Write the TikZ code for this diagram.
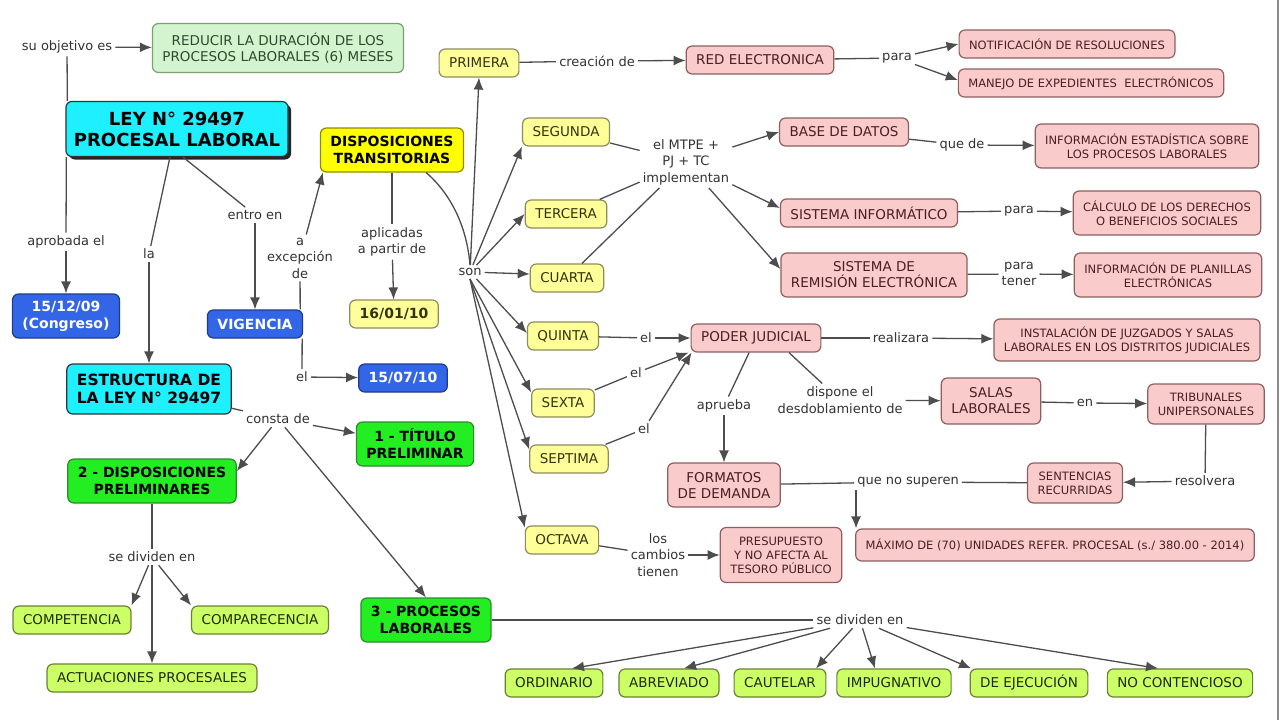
\documentclass[tikz,border=0pt]{standalone}
\usepackage{fontspec}
\setmainfont{DejaVu Sans}
\usetikzlibrary{arrows.meta,shadows}

\definecolor{mintfill}{HTML}{D2F5CF}
\definecolor{mintdraw}{HTML}{7F9F70}
\definecolor{minttext}{HTML}{2E4A2E}
\definecolor{cyanfill}{HTML}{1EF0FF}
\definecolor{bluefill}{HTML}{3366E6}
\definecolor{bluedraw}{HTML}{1F3A8F}
\definecolor{ylwfill}{HTML}{FFFF00}
\definecolor{ylwdraw}{HTML}{8C8C00}
\definecolor{paleyfill}{HTML}{FFFF99}
\definecolor{paleydraw}{HTML}{8C8C5C}
\definecolor{paleytext}{HTML}{33330A}
\definecolor{greenfill}{HTML}{22EE22}
\definecolor{greendraw}{HTML}{2E8B2E}
\definecolor{limefill}{HTML}{CCFF66}
\definecolor{limedraw}{HTML}{6B8033}
\definecolor{limetext}{HTML}{1F2A05}
\definecolor{pinkfill}{HTML}{F9CBCB}
\definecolor{pinkdraw}{HTML}{8F5F5F}
\definecolor{pinktext}{HTML}{4A1F1F}
\definecolor{linkgray}{HTML}{4D4D4D}

\tikzset{
    concept/.style={draw, rounded corners=6pt, line width=1.2pt, align=center,
        inner xsep=10pt, inner ysep=4pt, minimum height=28pt},
    two/.style={minimum height=44pt},
    txtbig/.style={font=\fontsize{13.5}{16}\selectfont},
    txtsmall/.style={font=\fontsize{11.5}{14}\selectfont},
    txtbold/.style={font=\fontsize{14}{17}\selectfont\bfseries},
    mintbox/.style={concept, txtbig, fill=mintfill, draw=mintdraw, text=minttext},
    cyanbox/.style={concept, fill=cyanfill, draw=black!80, text=black},
    bluebox/.style={concept, txtbold, fill=bluefill, draw=bluedraw, text=white},
    ylwbox/.style={concept, txtbold, fill=ylwfill, draw=ylwdraw, text=black},
    paleybox/.style={concept, txtbig, fill=paleyfill, draw=paleydraw, text=paleytext},
    greenbox/.style={concept, txtbold, fill=greenfill, draw=greendraw, text=black},
    limebox/.style={concept, txtbig, fill=limefill, draw=limedraw, text=limetext},
    pinkbox/.style={concept, txtbig, fill=pinkfill, draw=pinkdraw, text=pinktext},
    pinksmall/.style={concept, txtsmall, fill=pinkfill, draw=pinkdraw, text=pinktext},
    lbl/.style={align=center, inner sep=3pt, text=black!80,
        font=\fontsize{13}{16.5}\selectfont},
    lnk/.style={draw=linkgray, line width=1.3pt},
    arr/.style={lnk, -{Latex[length=12pt,width=10pt]}},
}

\begin{document}
\begin{tikzpicture}[x=1pt,y=-1pt]
\useasboundingbox[fill=white] (0,0) rectangle (1280,720);

% ley y objetivo
\node[cyanbox, font=\fontsize{18}{21}\selectfont\bfseries, inner xsep=8pt, minimum height=55pt,
    drop shadow={shadow xshift=3pt, shadow yshift=-3pt, fill=black!85, opacity=1}]
    (ley) at (177,129) {LEY N° 29497\\PROCESAL LABORAL};
\node[mintbox, minimum height=49pt] (objetivo) at (278,48) {REDUCIR LA DURACIÓN DE LOS\\PROCESOS LABORALES (6) MESES};
\node[lbl] (l-objetivo) at (67,47) {su objetivo es};
\draw[lnk] ([xshift=2pt]ley.north west) -- (l-objetivo);
\draw[arr] (l-objetivo) -- (objetivo);

\node[bluebox, two] (congreso) at (66,316) {15/12/09\\(Congreso)};
\node[lbl] (l-aprobada) at (66,242) {aprobada el};
\draw[lnk] ([xshift=1pt]ley.south west) -- (l-aprobada);
\draw[arr] (l-aprobada) -- (congreso);

\node[cyanbox, font=\fontsize{15.5}{18}\selectfont\bfseries, minimum height=50pt] (estructura) at (149,389) {ESTRUCTURA DE\\LA LEY N° 29497};
\node[lbl] (l-la) at (149,254) {la};
\draw[lnk] ([xshift=-7pt]ley.south) -- (l-la);
\draw[arr] (l-la) -- (estructura);

\node[bluebox] (vigencia) at (255,324) {VIGENCIA};
\node[lbl] (l-entro) at (255,215) {entro en};
\draw[lnk] ([xshift=6pt]ley.south) -- (l-entro);
\draw[arr] (l-entro) -- (vigencia);

\node[ylwbox, two] (transitorias) at (392,150) {DISPOSICIONES\\TRANSITORIAS};
\node[lbl] (l-excepcion) at (300,258) {a\\excepción\\de};
\draw[lnk] ([xshift=-3pt]vigencia.north east) -- (l-excepcion);
\draw[arr] (l-excepcion) -- ([xshift=3pt]transitorias.south west);

\node[bluebox] (julio) at (403,378) {15/07/10};
\node[lbl] (l-el1) at (302,377) {el};
\draw[lnk] ([xshift=-1pt]vigencia.south east) -- (l-el1);
\draw[arr] (l-el1) -- (julio);

\node[paleybox, txtbold] (enero) at (394,314) {16/01/10};
\node[lbl] (l-aplicadas) at (392,242) {aplicadas\\a partir de};
\draw[lnk] (transitorias) -- (l-aplicadas);
\draw[arr] (l-aplicadas) -- (enero);

% estructura
\node[greenbox, two] (titulo) at (415,444) {1 - TÍTULO\\PRELIMINAR};
\node[greenbox, two] (dispre) at (152,481) {2 - DISPOSICIONES\\PRELIMINARES};
\node[greenbox, two] (procesos) at (426,620) {3 - PROCESOS\\LABORALES};
\node[lbl] (l-consta) at (278,419) {consta de};
\draw[lnk] (estructura) -- (l-consta);
\draw[arr] (l-consta) -- (titulo);
\draw[arr] (l-consta) -- ([yshift=10pt]dispre.east);
\draw[arr] (l-consta) -- (procesos.north);

\node[limebox] (competencia) at (72,620) {COMPETENCIA};
\node[limebox] (comparecencia) at (260,620) {COMPARECENCIA};
\node[limebox] (actuaciones) at (152,678) {ACTUACIONES PROCESALES};
\node[lbl] (l-dividen1) at (152,557) {se dividen en};
\draw[lnk] (dispre) -- (l-dividen1);
\draw[arr] (l-dividen1) -- (competencia.north east);
\draw[arr] (l-dividen1) -- (comparecencia.north west);
\draw[arr] (l-dividen1) -- (actuaciones);

\node[limebox] (ordinario) at (554,683) {ORDINARIO};
\node[limebox] (abreviado) at (669,683) {ABREVIADO};
\node[limebox] (cautelar) at (780,683) {CAUTELAR};
\node[limebox] (impugnativo) at (894,683) {IMPUGNATIVO};
\node[limebox] (ejecucion) at (1029,683) {DE EJECUCIÓN};
\node[limebox] (contencioso) at (1180,683) {NO CONTENCIOSO};
\node[lbl] (l-dividen2) at (860,620) {se dividen en};
\draw[lnk] (procesos) -- (l-dividen2);
\draw[arr] (l-dividen2) -- ([xshift=18pt]ordinario.north);
\draw[arr] (l-dividen2) -- ([xshift=15pt]abreviado.north);
\draw[arr] (l-dividen2) -- ([xshift=36pt]cautelar.north);
\draw[arr] (l-dividen2) -- ([xshift=-19pt]impugnativo.north);
\draw[arr] (l-dividen2) -- ([xshift=-58pt]ejecucion.north);
\draw[arr] (l-dividen2) -- ([xshift=-22pt]contencioso.north);

% disposiciones transitorias
\node[lbl] (l-son) at (470,272) {son};
\draw[lnk] ([xshift=-38pt]transitorias.south east) .. controls (452,195) and (467,228) .. (l-son.north);
\node[paleybox] (primera) at (479,63) {PRIMERA};
\node[paleybox] (segunda) at (566,132) {SEGUNDA};
\node[paleybox] (tercera) at (566,214) {TERCERA};
\node[paleybox] (cuarta) at (567,278) {CUARTA};
\node[paleybox] (quinta) at (563,336) {QUINTA};
\node[paleybox] (sexta) at (563,403) {SEXTA};
\node[paleybox] (septima) at (569,459) {SEPTIMA};
\node[paleybox] (octava) at (562,540) {OCTAVA};
\draw[arr] (l-son) -- (primera.south);
\draw[arr] (l-son) -- (segunda.south west);
\draw[arr] (l-son) -- (tercera.west);
\draw[arr] (l-son) -- ([yshift=4pt]cuarta.west);
\draw[arr] (l-son) -- ([yshift=3pt]quinta.west);
\draw[arr] (l-son.south) -- ([yshift=-4pt]sexta.north west);
\draw[arr] (l-son.south) -- ([yshift=-5pt]septima.north west);
\draw[arr] (l-son.south) -- ([yshift=-2pt]octava.north west);

\node[pinkbox] (red) at (760,60) {RED ELECTRONICA};
\node[pinksmall] (notificacion) at (1067,44) {NOTIFICACIÓN DE RESOLUCIONES};
\node[pinksmall] (manejo) at (1091,83) {MANEJO DE EXPEDIENTES \ ELECTRÓNICOS};
\node[lbl] (l-creacion) at (597,61) {creación de};
\draw[lnk] (primera) -- (l-creacion);
\draw[arr] (l-creacion) -- (red);
\node[lbl] (l-para1) at (897,58) {para};
\draw[lnk] (red) -- (l-para1);
\draw[arr] (l-para1) -- (notificacion.west);
\draw[arr] (l-para1) -- ([yshift=3pt]manejo.west);

\node[pinkbox] (basedatos) at (844,132) {BASE DE DATOS};
\node[pinkbox] (sisinfo) at (869,213) {SISTEMA INFORMÁTICO};
\node[pinkbox, two] (sisremision) at (874,275) {SISTEMA DE\\REMISIÓN ELECTRÓNICA};
\node[lbl] (l-implementan) at (686,162) {el MTPE +\\PJ + TC\\implementan};
\draw[lnk] (segunda) -- (l-implementan);
\draw[lnk] (tercera) -- (l-implementan);
\draw[lnk] (cuarta) -- (l-implementan);
\draw[arr] (l-implementan) -- (basedatos.west);
\draw[arr] (l-implementan) -- ([yshift=5pt]sisinfo.west);
\draw[arr] (l-implementan) -- ([yshift=6pt]sisremision.west);

\node[pinksmall, two] (estadistica) at (1147,146) {INFORMACIÓN ESTADÍSTICA SOBRE\\LOS PROCESOS LABORALES};
\node[lbl] (l-quede) at (962,145) {que de};
\draw[lnk] (basedatos) -- (l-quede);
\draw[arr] (l-quede) -- (estadistica);
\node[pinksmall, two] (calculo) at (1167,213) {CÁLCULO DE LOS DERECHOS\\O BENEFICIOS SOCIALES};
\node[lbl] (l-para2) at (1019,211) {para};
\draw[lnk] (sisinfo) -- (l-para2);
\draw[arr] (l-para2) -- (calculo);
\node[pinksmall, two] (planillas) at (1168,275) {INFORMACIÓN DE PLANILLAS\\ELECTRÓNICAS};
\node[lbl] (l-tener) at (1019,274) {para\\tener};
\draw[lnk] (sisremision) -- (l-tener);
\draw[arr] (l-tener) -- (planillas);

% poder judicial
\node[pinkbox] (judicial) at (756,338) {PODER JUDICIAL};
\node[lbl] (l-el2) at (646,338) {el};
\draw[lnk] (quinta) -- (l-el2);
\draw[arr] (l-el2) -- (judicial);
\node[lbl] (l-el3) at (636,373) {el};
\draw[lnk] (sexta) -- (l-el3);
\draw[arr] (l-el3) -- ([xshift=-2pt]judicial.south west);
\node[lbl] (l-el4) at (644,429) {el};
\draw[lnk] (septima) -- (l-el4);
\draw[arr] (l-el4) -- ([xshift=1pt]judicial.south west);

\node[pinksmall, two, minimum height=42pt] (instalacion) at (1127,340) {INSTALACIÓN DE JUZGADOS Y SALAS\\LABORALES EN LOS DISTRITOS JUDICIALES};
\node[lbl] (l-realizara) at (901,338) {realizara};
\draw[lnk] (judicial) -- (l-realizara);
\draw[arr] (l-realizara) -- (instalacion);

\node[pinkbox, two] (formatos) at (724,485) {FORMATOS\\DE DEMANDA};
\node[lbl] (l-aprueba) at (724,406) {aprueba};
\draw[lnk] (judicial) -- (l-aprueba);
\draw[arr] (l-aprueba) -- (formatos);

\node[pinkbox, two, minimum height=46pt] (salas) at (991,401) {SALAS\\LABORALES};
\node[lbl] (l-desdobla) at (840,400) {dispone el\\desdoblamiento de};
\draw[lnk] ([xshift=33pt]judicial.south) -- (l-desdobla);
\draw[arr] (l-desdobla) -- (salas);

\node[pinksmall, two, minimum height=40pt] (tribunales) at (1206,404) {TRIBUNALES\\UNIPERSONALES};
\node[lbl] (l-en) at (1085,403) {en};
\draw[lnk] (salas) -- (l-en);
\draw[arr] (l-en) -- (tribunales);

\node[pinksmall, two, minimum height=40pt] (sentencias) at (1075,483) {SENTENCIAS\\RECURRIDAS};
\node[lbl] (l-resolvera) at (1205,481) {resolvera};
\draw[lnk] (tribunales) -- (l-resolvera);
\draw[arr] (l-resolvera) -- (sentencias);

\node[pinksmall, minimum height=32pt] (maximo) at (1055,545) {MÁXIMO DE (70) UNIDADES REFER. PROCESAL (s./ 380.00 - 2014)};
\node[lbl] (l-superen) at (908,482) {que no superen};
\draw[lnk] (sentencias) -- (l-superen);
\draw[lnk] (formatos) -- (l-superen);
\draw[arr] ([xshift=2pt]l-superen.south west) -- ([xshift=2pt]l-superen.south west |- maximo.north);

\node[pinksmall, minimum height=55pt] (presupuesto) at (781,555) {PRESUPUESTO\\Y NO AFECTA AL\\TESORO PÚBLICO};
\node[lbl] (l-cambios) at (658,555) {los\\cambios\\tienen};
\draw[lnk] (octava) -- (l-cambios);
\draw[arr] (l-cambios) -- (presupuesto);

\draw[black!45, line width=1.5pt] (1278,0) -- (1278,720);
\end{tikzpicture}
\end{document}
